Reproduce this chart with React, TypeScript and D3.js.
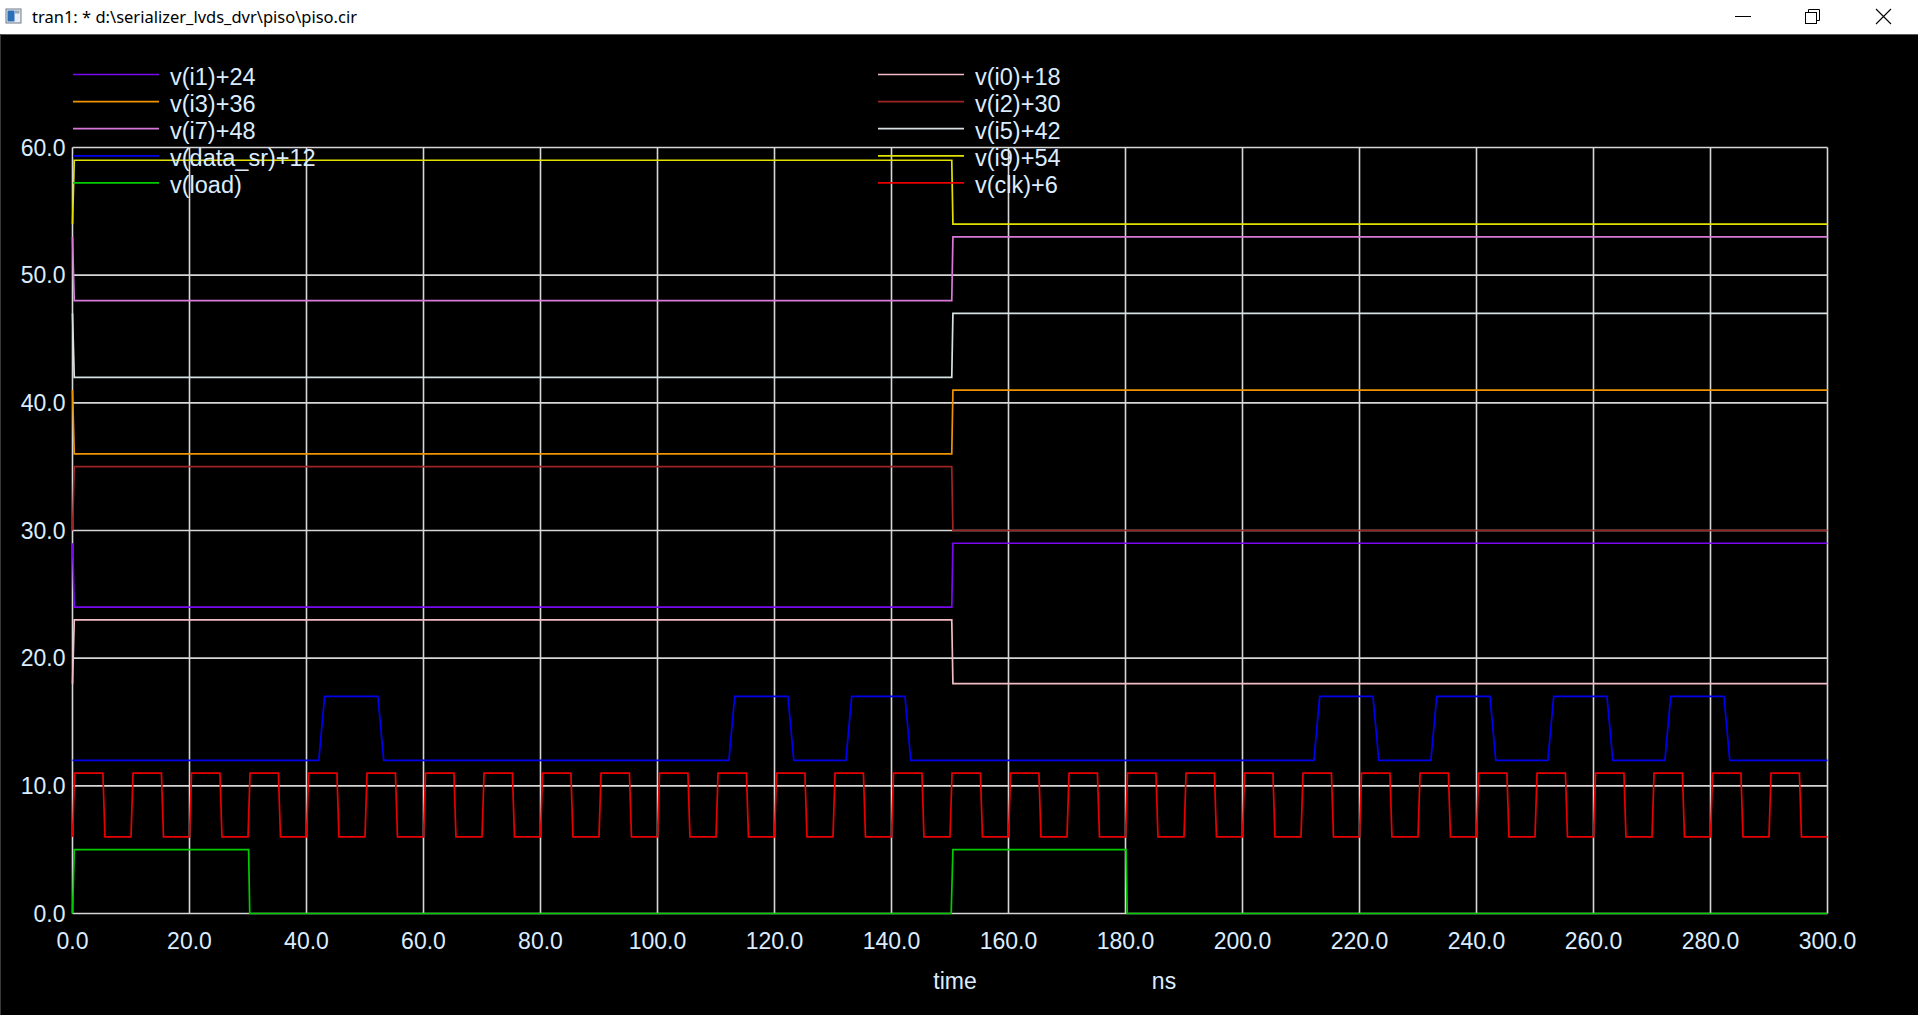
import * as d3 from "d3";

const timeTicks = [0, 20, 40, 60, 80, 100, 120, 140, 160, 180, 200, 220, 240, 260, 280, 300];
const voltTicks = [0, 10, 20, 30, 40, 50, 60];

// raw node voltages [time ns, volts]
const loadWave: [number, number][] = [
  [0, 0], [0.3, 5], [30.1, 5], [30.3, 0], [150.2, 0], [150.5, 5], [180.1, 5], [180.3, 0], [300, 0],
];
const dataSrWave: [number, number][] = [
  [0, 0], [42.1, 0], [43.1, 5], [52.2, 5], [53.2, 0],
  [112.2, 0], [113.2, 5], [122.3, 5], [123.3, 0],
  [132.2, 0], [133.2, 5], [142.3, 5], [143.3, 0],
  [212.2, 0], [213.2, 5], [222.3, 5], [223.3, 0],
  [232.2, 0], [233.2, 5], [242.3, 5], [243.3, 0],
  [252.2, 0], [253.2, 5], [262.3, 5], [263.3, 0],
  [272.2, 0], [273.2, 5], [282.3, 5], [283.3, 0], [300, 0],
];
const i0Wave: [number, number][] = [[0, 0], [0.3, 5], [150.3, 5], [150.5, 0], [300, 0]];
const i1Wave: [number, number][] = [[0, 5], [0.3, 0], [150.3, 0], [150.5, 5], [300, 5]];
const i2Wave: [number, number][] = [[0, 0], [0.3, 5], [150.3, 5], [150.5, 0], [300, 0]];
const i3Wave: [number, number][] = [[0, 5], [0.3, 0], [150.3, 0], [150.5, 5], [300, 5]];
const i5Wave: [number, number][] = [[0, 5], [0.3, 0], [150.3, 0], [150.5, 5], [300, 5]];
const i7Wave: [number, number][] = [[0, 5], [0.3, 0], [150.3, 0], [150.5, 5], [300, 5]];
const i9Wave: [number, number][] = [[0, 0], [0.3, 5], [150.3, 5], [150.5, 0], [300, 0]];

// clock edges (ns)
const clkRise = [0, 10, 20, 30, 40, 50, 60, 70, 80, 90, 100, 110, 120, 130, 140, 150, 160, 170, 180, 190, 200, 210, 220, 230, 240, 250, 260, 270, 280, 290];
const clkFall = [5.2, 15.2, 25.2, 35.2, 45.2, 55.2, 65.2, 75.2, 85.2, 95.2, 105.2, 115.2, 125.2, 135.2, 145.2, 155.2, 165.2, 175.2, 185.2, 195.2, 205.2, 215.2, 225.2, 235.2, 245.2, 255.2, 265.2, 275.2, 285.2, 295.2];
const clkLow = 0;
const clkHigh = 5;

const clkWave: [number, number][] = [];
clkRise.forEach((r, i) => {
  clkWave.push([r, clkLow], [r + 0.35, clkHigh], [clkFall[i], clkHigh], [clkFall[i] + 0.35, clkLow]);
});
clkWave.push([300, clkLow]);

const traces = [
  { name: "v(i1)+24", offset: 24, wave: i1Wave, color: "#7a08f0", col: 0, row: 0 },
  { name: "v(i3)+36", offset: 36, wave: i3Wave, color: "#ee9400", col: 0, row: 1 },
  { name: "v(i7)+48", offset: 48, wave: i7Wave, color: "#d878d8", col: 0, row: 2 },
  { name: "v(data_sr)+12", offset: 12, wave: dataSrWave, color: "#0000ee", col: 0, row: 3 },
  { name: "v(load)", offset: 0, wave: loadWave, color: "#00cc00", col: 0, row: 4 },
  { name: "v(i0)+18", offset: 18, wave: i0Wave, color: "#f2bcc4", col: 1, row: 0 },
  { name: "v(i2)+30", offset: 30, wave: i2Wave, color: "#9c2424", col: 1, row: 1 },
  { name: "v(i5)+42", offset: 42, wave: i5Wave, color: "#d8e2e2", col: 1, row: 2 },
  { name: "v(i9)+54", offset: 54, wave: i9Wave, color: "#e2e200", col: 1, row: 3 },
  { name: "v(clk)+6", offset: 6, wave: clkWave, color: "#e80000", col: 1, row: 4 },
];

const W = 1918;
const H = 1015;
const font = "'Liberation Sans', Arial, sans-serif";
const textColor = "#dcecff";
const gridColor = "#d6d6d6";

export default function App() {
  const x = d3.scaleLinear().domain([0, 300]).range([72.5, 1827.5]);
  const y = d3.scaleLinear().domain([0, 60]).range([913.5, 147.5]);

  const legendX = [73, 878];
  const legendRow = (i: number) => 74.5 + i * 27.1;

  return (
    <svg
      width={W}
      height={H}
      style={{ position: "absolute", left: 0, top: 0, display: "block" }}
    >
      {/* window frame */}
      <rect x={0} y={0} width={W} height={34} fill="#ffffff" />
      <rect x={0} y={34} width={W} height={H - 34} fill="#000000" />
      <line x1={0} x2={W} y1={34.5} y2={34.5} stroke="#5a5a5a" />
      <line x1={0.5} x2={0.5} y1={34} y2={H} stroke="#3a3a3a" />
      <g>
        <rect x={6} y={9} width={15} height={14} fill="#e8eef4" stroke="#6c7a88" />
        <rect x={7.5} y={10.5} width={7} height={11} fill="#2a6fb8" />
        <rect x={15} y={10.5} width={4.5} height={3} fill="#9aa8b4" />
      </g>
      <text x={32} y={23} fontFamily="'Noto Sans', 'Open Sans', sans-serif" fontSize={16.5} fill="#000">
        {"tran1: * d:\\serializer_lvds_dvr\\piso\\piso.cir"}
      </text>
      <line x1={1735} x2={1751} y1={16.5} y2={16.5} stroke="#000" />
      <rect x={1805.5} y={12.5} width={11} height={11} fill="none" stroke="#000" />
      <path d="M1808.5,12.5 V9.5 H1819.5 V20.5 H1816.5" fill="none" stroke="#000" />
      <path d="M1876,9 L1891,24 M1891,9 L1876,24" stroke="#000" strokeWidth={1.1} />

      {/* grid */}
      <g stroke={gridColor} strokeWidth={1.6}>
        {timeTicks.map((t) => (
          <line key={`v${t}`} x1={x(t)} x2={x(t)} y1={y(0)} y2={y(60)} />
        ))}
        {voltTicks.map((v) => (
          <line key={`h${v}`} x1={x(0)} x2={x(300)} y1={y(v)} y2={y(v)} />
        ))}
      </g>

      {/* tick labels */}
      <g fontFamily={font} fontSize={23} fill={textColor}>
        {voltTicks.map((v) => (
          <text key={`yl${v}`} x={x(0) - 7} y={y(v)} dy="0.36em" textAnchor="end">
            {v.toFixed(1)}
          </text>
        ))}
        {timeTicks.map((t) => (
          <text key={`xl${t}`} x={x(t)} y={949} textAnchor="middle">
            {t.toFixed(1)}
          </text>
        ))}
        <text x={955} y={989} textAnchor="middle">time</text>
        <text x={1164} y={989} textAnchor="middle">ns</text>
      </g>

      {/* traces */}
      <g fill="none" strokeWidth={1.7}>
        {traces.map((tr) => {
          const line = d3
            .line<[number, number]>()
            .x((d) => x(d[0]))
            .y((d) => y(d[1] + tr.offset));
          return <path key={tr.name} d={line(tr.wave) ?? ""} stroke={tr.color} />;
        })}
      </g>

      {/* legend */}
      <g fontFamily={font} fontSize={23.5} fill={textColor}>
        {traces.map((tr) => {
          const lx = legendX[tr.col];
          const ly = legendRow(tr.row);
          return (
            <g key={`lg${tr.name}`}>
              <line x1={lx} x2={lx + 86} y1={ly} y2={ly} stroke={tr.color} strokeWidth={1.7} />
              <text x={lx + 97} y={ly + 10}>{tr.name}</text>
            </g>
          );
        })}
      </g>
    </svg>
  );
}
